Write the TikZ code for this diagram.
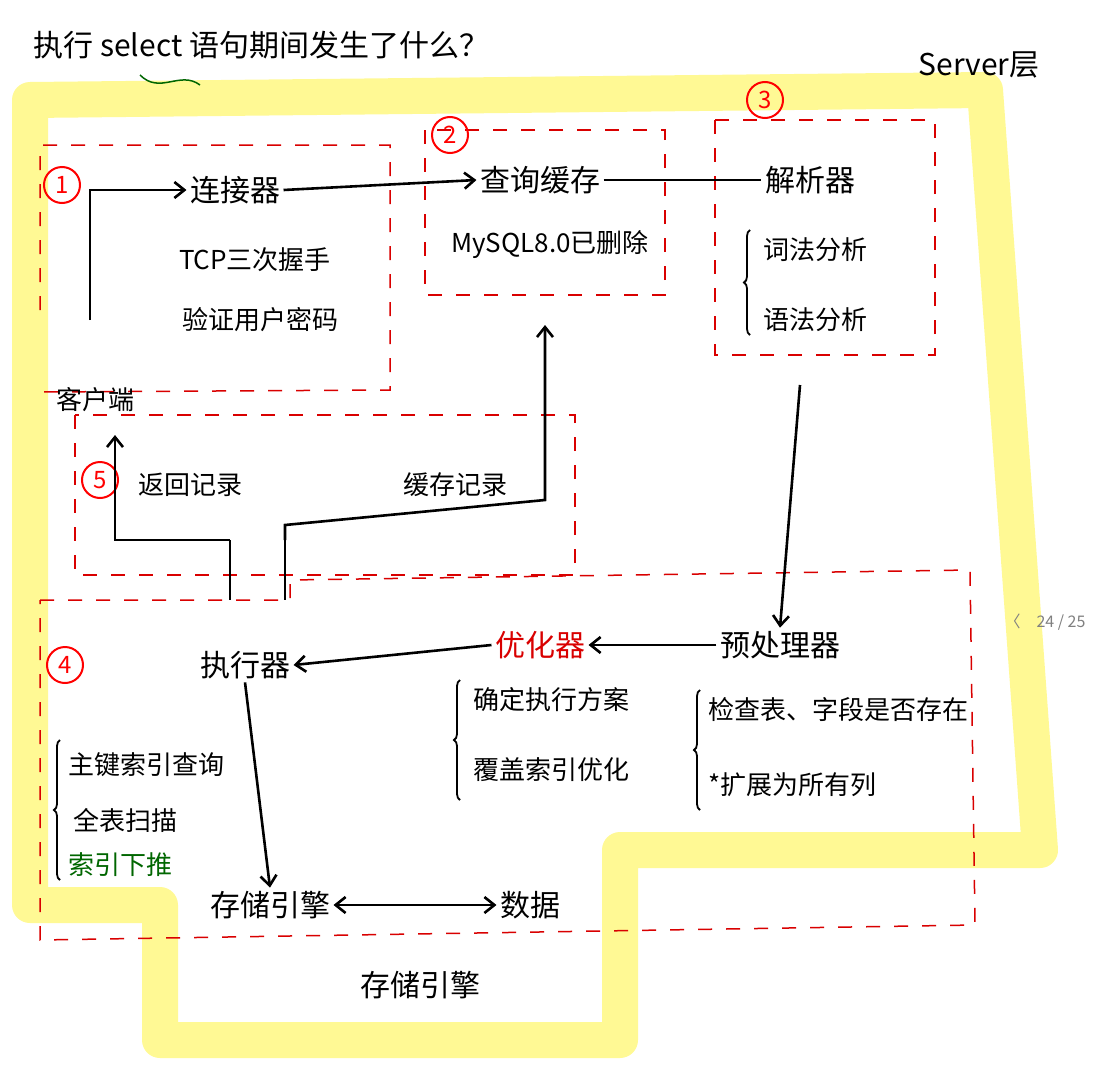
\documentclass[tikz,border=0pt]{standalone}
\usepackage{fontspec}
\setmainfont{Noto Sans CJK SC}
\usetikzlibrary{arrows.meta,decorations.pathreplacing}
\begin{document}
\begin{tikzpicture}[x=1pt,y=-1pt,
  txt/.style={font=\fontsize{30}{34}\selectfont,text=black},
  sub/.style={font=\fontsize{26}{30}\selectfont,text=black},
  num/.style={circle,draw=red,line width=2pt,text=red,font=\fontsize{24}{26}\selectfont,inner sep=2pt,minimum size=36pt},
  reddash/.style={draw=red!85!black,line width=1.5pt,dash pattern=on 14pt off 14pt},
  band/.style={draw=yellow!70,line width=36pt,opacity=0.6,line join=round,line cap=round},
  conn/.style={draw=black,line width=2.6pt},
  arr/.style={conn,-{Straight Barb[length=10pt,width=16pt]}},
  brc/.style={draw=black,line width=1.8pt,decorate,decoration={brace,amplitude=6pt,mirror}}]
\useasboundingbox (0,0) rectangle (1119,1079);
\fill[white] (0,0) rectangle (1119,1079);
% yellow band
\draw[band] (30,100) -- (985,90) -- (1040,850) -- (620,850) -- (620,1040) -- (160,1040) -- (160,905) -- (30,905) -- cycle;
% red dashed boxes
\draw[reddash] (40,310) -- (40,145) -- (390,145) -- (390,390) -- (40,392);
\draw[reddash] (425,130) rectangle (665,295);
\draw[reddash] (715,120) rectangle (935,355);
\draw[reddash] (75,415) rectangle (575,575);
\draw[reddash] (40,600) -- (290,600) -- (290,580) -- (970,570) -- (975,925) -- (40,940) -- cycle;
% title
\node[txt,anchor=west] (title) at (30,45) {执行 select 语句期间发生了什么？};
\draw[line width=1.5pt,green!40!black] (140,75) .. controls (160,95) and (180,70) .. (200,85);
\node[txt,anchor=west] (server) at (915,65) {Server层};
% numbers
\node[num] (n1) at (62,185) {1};
\node[num] (n2) at (450,135) {2};
\node[num] (n3) at (765,100) {3};
\node[num] (n4) at (65,665) {4};
\node[num] (n5) at (100,480) {5};
% texts
\node[txt] (lj) at (235,190) {连接器};
\node[sub] (tcp) at (255,260) {TCP三次握手};
\node[sub] (yz) at (260,320) {验证用户密码};
\node[txt] (cx) at (540,180) {查询缓存};
\node[sub] (mysql) at (550,245) {MySQL8.0已删除};
\node[txt] (jx) at (810,180) {解析器};
\node[sub,anchor=west] (cf) at (760,250) {词法分析};
\node[sub,anchor=west] (yf) at (760,320) {语法分析};
\node[sub] (kh) at (95,400) {客户端};
\node[sub] (fh) at (190,485) {返回记录};
\node[sub] (hc) at (455,485) {缓存记录};
\node[txt] (yc) at (780,645) {预处理器};
\node[txt,text=red!85!black] (yh) at (540,645) {优化器};
\node[sub,anchor=west] (qd) at (470,700) {确定执行方案};
\node[sub,anchor=west] (fg) at (470,770) {覆盖索引优化};
\node[sub,anchor=west] (jc) at (705,710) {检查表、字段是否存在};
\node[sub,anchor=west] (kz) at (705,785) {*扩展为所有列};
\node[txt] (zx) at (245,665) {执行器};
\node[sub,anchor=west] (zj) at (65,765) {主键索引查询};
\node[sub,anchor=west] (qb) at (70,820) {全表扫描};
\node[sub,anchor=west,text=green!40!black] (sy) at (65,865) {索引下推};
\node[txt] (cc) at (270,905) {存储引擎};
\node[txt] (sj) at (530,905) {数据};
\node[txt] (cc2) at (420,985) {存储引擎};
\node[font=\fontsize{16}{18}\selectfont,text=gray] (pg) at (1045,622) {\textlangle\quad 24 / 25};
% braces
\draw[brc] (460,680) -- (460,800);
\draw[brc] (700,690) -- (700,810);
\draw[brc] (750,230) -- (750,335);
\draw[brc] (60,740) -- (60,880);
% connectors
\coordinate (c1) at (90,320);
\draw[arr] (c1) |- (lj.west);
\draw[arr] (lj.east) -- (cx.west);
\draw[conn] (cx.east) -- (jx.west);
\draw[arr] (800,385) -- (yc.north);
\draw[arr] (yc.west) -- (yh.east);
\draw[arr] (yh.west) -- (zx.east);
\draw[arr] (zx.south) -- (cc.north);
\draw[conn,{Straight Barb[length=10pt,width=16pt]}-{Straight Barb[length=10pt,width=16pt]}] (cc.east) -- (sj.west);
\draw[conn] (230,540) -- (230,600);
\draw[conn] (285,540) -- (285,600);
\draw[arr] (285,540) -- (285,525) -- (545,500) -- (545,325);
\draw[arr] (230,540) -- (115,540) -- (115,435);
\end{tikzpicture}
\end{document}
